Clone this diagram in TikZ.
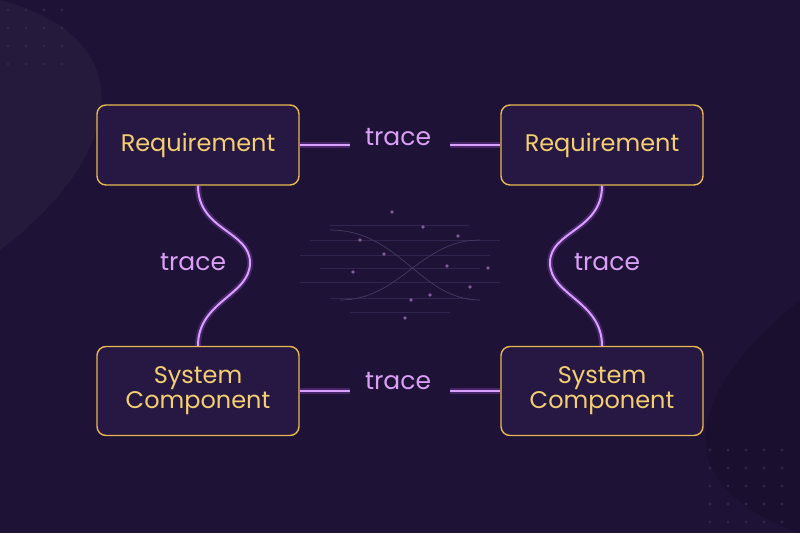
\documentclass[tikz,border=0pt]{standalone}
\usepackage{fontspec}
\setmainfont{Poppins}
\usetikzlibrary{calc}
\definecolor{bg}{HTML}{1E1236}
\definecolor{boxfill}{HTML}{261842}
\definecolor{gold}{HTML}{E9B850}
\definecolor{goldtxt}{HTML}{F4CF72}
\definecolor{vio}{HTML}{C060FF}
\definecolor{lav}{HTML}{D9A0F5}
\definecolor{faint}{HTML}{33244F}
\tikzset{
  box/.style={draw=gold, line width=1.4pt, fill=boxfill, rounded corners=9pt, minimum width=202pt, align=center, text=goldtxt, font=\fontsize{24}{28}\selectfont},
  lbl/.style={text=lav, font=\fontsize{25}{28}\selectfont},
  glow/.style={draw=vio, line width=6pt, opacity=0.25},
  link/.style={draw=vio!60!white, line width=2pt}
}
\begin{document}
\begin{tikzpicture}[x=1pt,y=-1pt]
\fill[bg] (0,0) rectangle (800,533);
\useasboundingbox (0,0) rectangle (800,533);
\fill[white, opacity=0.03] (0,0) .. controls (150,40) and (120,160) .. (0,250) -- cycle;
\fill[black, opacity=0.12] (800,533) .. controls (650,480) and (700,380) .. (800,300) -- cycle;
% background dots
\foreach \i in {0,...,3}{\foreach \j in {0,...,3}{\fill[faint] (8+\i*18,10+\j*18) circle (1.6pt);}}
\foreach \i in {0,...,4}{\foreach \j in {0,...,4}{\fill[faint] (710+\i*18,450+\j*18) circle (1.6pt);}}
% center network
\foreach \y/\a/\b in {225/330/470,240/310/500,255/300/490,268/320/480,282/300/500,298/330/470,312/350/450}{\draw[faint, line width=0.6pt] (\a,\y) -- (\b,\y);}
\draw[faint!90!white, line width=0.7pt] (330,230) .. controls (400,230) and (420,300) .. (480,300);
\draw[faint!90!white, line width=0.7pt] (340,300) .. controls (400,300) and (420,240) .. (480,240);
\foreach \p in {(392,212),(423,227),(458,236),(384,254),(353,272),(430,295),(447,266),(411,300),(488,268),(405,318),(360,240),(470,287)}{\fill[lav!45!faint] \p circle (1.8pt);}
% nodes
\node[box, minimum height=80pt] (r1) at (198,145) {Requirement};
\node[box, minimum height=80pt] (r2) at (602,145) {Requirement};
\node[box, minimum height=89pt] (s1) at (198,391) {System\\[-3pt]Component};
\node[box, minimum height=89pt] (s2) at (602,391) {System\\[-3pt]Component};
% labels
\node[lbl] (t1) at (398,137) {trace};
\node[lbl] (t2) at (398,381) {trace};
\node[lbl] (t3) at (193,262) {trace};
\node[lbl] (t4) at (607,262) {trace};
% links
\foreach \s in {glow,link}{
  \draw[\s] (r1.east) -- ($(r1.east)!0.25!(r2.west)$);
  \draw[\s] ($(r1.east)!0.75!(r2.west)$) -- (r2.west);
  \draw[\s] (s1.east) -- ($(s1.east)!0.25!(s2.west)$);
  \draw[\s] ($(s1.east)!0.75!(s2.west)$) -- (s2.west);
  \draw[\s] (r1.south) .. controls ($(r1.south)+(0,45)$) and ($(r1.south)+(52,45)$) .. ($(r1.south)+(52,77)$)
     .. controls ($(r1.south)+(52,110)$) and ($(s1.north)+(0,-45)$) .. (s1.north);
  \draw[\s] (r2.south) .. controls ($(r2.south)+(0,45)$) and ($(r2.south)+(-52,45)$) .. ($(r2.south)+(-52,77)$)
     .. controls ($(r2.south)+(-52,110)$) and ($(s2.north)+(0,-45)$) .. (s2.north);
}
\end{tikzpicture}
\end{document}
